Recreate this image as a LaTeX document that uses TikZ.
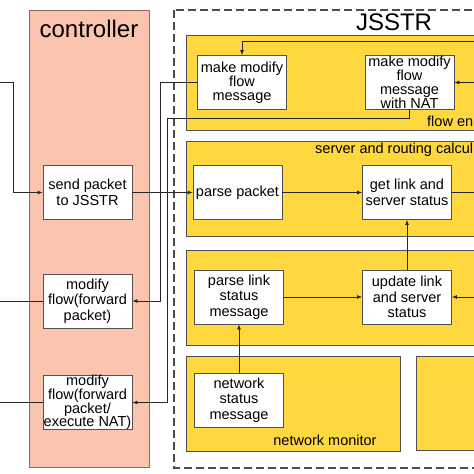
\documentclass[tikz,border=0pt]{standalone}
\usepackage{fontspec}
\setmainfont{Liberation Sans}
\usetikzlibrary{arrows.meta}
\definecolor{ctrlfill}{RGB}{250,196,174}
\definecolor{ctrlline}{RGB}{140,105,92}
\definecolor{modfill}{RGB}{254,216,62}
\definecolor{boxline}{RGB}{80,80,80}

\begin{document}
\begin{tikzpicture}[x=1pt,y=-1pt,
  >={Latex[length=5pt,width=4pt]},
  font=\fontsize{14.5}{15.5}\selectfont,
  wire/.style={draw=black!85,line width=0.8pt},
  stepbox/.style={draw=boxline,fill=white,line width=0.8pt,minimum width=89pt,minimum height=54pt,inner sep=0pt,align=center},
  boxtext/.style={inner sep=0pt,align=center,font=\fontsize{14.5}{13.8}\selectfont},
  module/.style={draw=boxline,fill=modfill,line width=0.6pt},
  lbl/.style={inner sep=0pt},
  title/.style={inner sep=0pt,font=\fontsize{24}{24}\selectfont},
]
\clip (0,0) rectangle (474,474);
\fill[white] (0,0) rectangle (474,474);

% controller and JSSTR frames
\draw[fill=ctrlfill,draw=ctrlline,line width=0.9pt] (29,10) rectangle (149,467);
\node[title] (ctrltitle) at (89,29) {controller};
\draw[draw=black!70,line width=1.1pt,dash pattern=on 8pt off 4pt] (174,10) rectangle (495,468);
\node[title] (jsstrtitle) at (394,22.5) {JSSTR};

% modules
\draw[module] (186,35) rectangle (495,130);
\node[lbl,anchor=west] (flowlbl) at (427,121) {flow en};
\draw[module] (186,141) rectangle (495,236);
\node[lbl,anchor=west] (calclbl) at (315,150) {server and routing calcul};
\draw[module] (186,250) rectangle (495,345);
\draw[module] (186,356) rectangle (400,451);
\node[lbl] (monlbl) at (325,440) {network monitor};
\draw[module] (416,356) rectangle (495,450);

% free ends
\coordinate (inL) at (-5,82);
\coordinate (inT) at (480,41);
\coordinate (inN) at (480,82.5);
\coordinate (outG) at (480,192.5);
\coordinate (inU) at (480,297);
\coordinate (outF) at (-5,301);
\coordinate (outN) at (-5,402.5);

% steps
\node[stepbox] (send) at (87.5,192.5) {send packet\\to JSSTR};
\node[stepbox] (modfwd) at (87.5,301) {modify\\flow(forward\\packet)};
\node[stepbox] (modnat) at (87.5,402.5) {};
\node[boxtext] at (modnat) {modify\\flow(forward\\packet/\\execute NAT)};
\node[stepbox,font=\fontsize{14.5}{14}\selectfont] (mkflow) at (242,82.5) {make modify\\flow\\message};
\node[stepbox] (mknat) at (409.5,82.5) {};
\node[boxtext] at (mknat) {make modify\\flow\\message\\with NAT};
\node[stepbox] (parse) at (237.5,192.5) {parse packet};
\node[stepbox] (getlink) at (407,192.5) {get link and\\server status};
\node[stepbox] (parselink) at (239,297) {parse link\\status\\message};
\node[stepbox] (update) at (407,297) {update link\\and server\\status};
\node[stepbox] (netstatus) at (239,400) {network\\status\\message};

% connectors
\draw[wire,->] (inL) -| (13,192.5) -- (send.west);
\draw[wire,->] (send.east) -- (parse.west);
\draw[wire,->] (parse.east) -- (getlink.west);
\draw[wire] (getlink.east) -- (outG);
\draw[wire,->] (inT) -| (mkflow.north);
\draw[wire,->] (inN) -- (mknat.east);
\draw[wire,->] (mkflow.west) -- (160,82.5) |- (modfwd.east);
\draw[wire,->] (mknat.south) |- (167,118) |- (modnat.east);
\draw[wire,->] (update.north) -- (getlink.south);
\draw[wire,->] (parselink.east) -- (update.west);
\draw[wire,->] (inU) -- (update.east);
\draw[wire,->] (netstatus.north) -- (parselink.south);
\draw[wire] (modfwd.west) -- (outF);
\draw[wire] (modnat.west) -- (outN);
\end{tikzpicture}
\end{document}
